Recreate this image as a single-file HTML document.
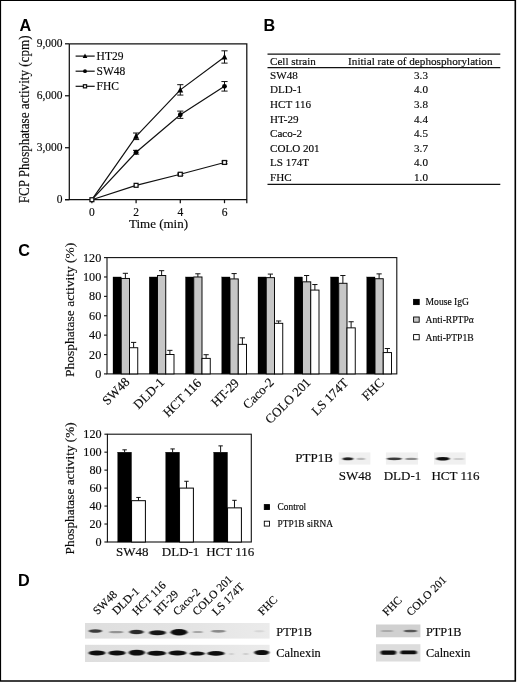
<!DOCTYPE html>
<html><head><meta charset="utf-8"><title>Figure</title>
<style>html,body{margin:0;padding:0;background:#fff;}svg{display:block;}text{font-family:"Liberation Serif","Times New Roman",serif;fill:#0a0a0a;stroke:#0a0a0a;stroke-width:0.16px;}.b{font-family:"Liberation Sans",Arial,sans-serif;font-weight:bold;fill:#000;stroke:none;}</style></head><body>
<svg width="520" height="682" viewBox="0 0 520 682">
<defs><filter id="bl" x="-20%" y="-80%" width="140%" height="260%"><feGaussianBlur stdDeviation="0.8 0.65"/></filter><filter id="bl2" x="-20%" y="-80%" width="140%" height="260%"><feGaussianBlur stdDeviation="0.9 0.7"/></filter><linearGradient id="bg1" x1="0" y1="0" x2="1" y2="0"><stop offset="0" stop-color="#dedede"/><stop offset="0.6" stop-color="#e4e4e4"/><stop offset="1" stop-color="#ebebeb"/></linearGradient></defs>
<rect x="0" y="0" width="520" height="682" fill="#fff"/>
<path d="M0,0 H516.1 V681.7 H0 Z M1.1,1.1 V680.2 H514.5 V1.1 Z" fill="#000" fill-rule="evenodd"/>
<text class="b" transform="translate(19.4,30.5) scale(1,1)" font-size="16.2">A</text>
<text class="b" transform="translate(263.6,30.8) scale(1,1)" font-size="16.2">B</text>
<text class="b" transform="translate(18.3,256.3) scale(1,1)" font-size="16.2">C</text>
<text class="b" transform="translate(17.9,586.2) scale(1,1)" font-size="16.2">D</text>
<g stroke="#111" stroke-width="1.25" fill="none">
<path d="M69.3,43.8 H246.8 V203.2 M69.3,43.8 V199.7 M65.0,199.7 H246.8"/>
<path d="M65.0,199.70 H69.3"/>
<path d="M65.0,147.73 H69.3"/>
<path d="M65.0,95.77 H69.3"/>
<path d="M65.0,43.80 H69.3"/>
<path d="M91.90,199.7 V203.2"/>
<path d="M136.10,199.7 V203.2"/>
<path d="M180.30,199.7 V203.2"/>
<path d="M224.50,199.7 V203.2"/>
</g>
<text x="62.5" y="203.20" font-size="11.5" text-anchor="end">0</text>
<text x="62.5" y="151.23" font-size="11.5" text-anchor="end">3,000</text>
<text x="62.5" y="99.27" font-size="11.5" text-anchor="end">6,000</text>
<text x="62.5" y="47.30" font-size="11.5" text-anchor="end">9,000</text>
<text x="91.90" y="216.3" font-size="11.5" text-anchor="middle">0</text>
<text x="136.10" y="216.3" font-size="11.5" text-anchor="middle">2</text>
<text x="180.30" y="216.3" font-size="11.5" text-anchor="middle">4</text>
<text x="224.50" y="216.3" font-size="11.5" text-anchor="middle">6</text>
<text x="158.5" y="228.3" font-size="13" text-anchor="middle">Time (min)</text>
<text transform="translate(29.3,119.4) rotate(-90) scale(0.935,1)" font-size="14" text-anchor="middle">FCP Phosphatase activity (cpm)</text>
<path d="M91.90,199.70 L136.10,136.30 L180.30,89.88 L224.50,56.96" fill="none" stroke="#111" stroke-width="1.2"/>
<path d="M136.10,133.01 V139.59 M133.00,133.01 H139.20 M133.00,139.59 H139.20" fill="none" stroke="#111" stroke-width="1"/>
<path d="M180.30,84.68 V95.07 M177.20,84.68 H183.40 M177.20,95.07 H183.40" fill="none" stroke="#111" stroke-width="1"/>
<path d="M224.50,50.82 V63.11 M221.40,50.82 H227.60 M221.40,63.11 H227.60" fill="none" stroke="#111" stroke-width="1"/>
<path d="M91.90,199.70 L136.10,152.24 L180.30,114.73 L224.50,86.33" fill="none" stroke="#111" stroke-width="1.2"/>
<path d="M136.10,150.33 V154.14 M133.00,150.33 H139.20 M133.00,154.14 H139.20" fill="none" stroke="#111" stroke-width="1"/>
<path d="M180.30,111.10 V118.37 M177.20,111.10 H183.40 M177.20,118.37 H183.40" fill="none" stroke="#111" stroke-width="1"/>
<path d="M224.50,81.56 V91.09 M221.40,81.56 H227.60 M221.40,91.09 H227.60" fill="none" stroke="#111" stroke-width="1"/>
<path d="M91.90,199.70 L136.10,185.32 L180.30,174.24 L224.50,162.46" fill="none" stroke="#111" stroke-width="1.2"/>
<path d="M180.30,173.20 V175.28 M177.20,173.20 H183.40 M177.20,175.28 H183.40" fill="none" stroke="#111" stroke-width="1"/>
<path d="M224.50,161.07 V163.84 M221.40,161.07 H227.60 M221.40,163.84 H227.60" fill="none" stroke="#111" stroke-width="1"/>
<path d="M133.20,138.80 L139.00,138.80 L136.10,133.10 Z" fill="#000" stroke="none"/>
<path d="M177.40,92.38 L183.20,92.38 L180.30,86.68 Z" fill="#000" stroke="none"/>
<path d="M221.60,59.46 L227.40,59.46 L224.50,53.76 Z" fill="#000" stroke="none"/>
<circle cx="136.10" cy="152.24" r="2.40" fill="#000" stroke="none"/>
<circle cx="180.30" cy="114.73" r="2.40" fill="#000" stroke="none"/>
<circle cx="224.50" cy="86.33" r="2.40" fill="#000" stroke="none"/>
<rect x="89.95" y="197.75" width="3.90" height="3.90" fill="#fff" stroke="#111" stroke-width="1.25"/>
<rect x="134.15" y="183.37" width="3.90" height="3.90" fill="#fff" stroke="#111" stroke-width="1.25"/>
<rect x="178.35" y="172.29" width="3.90" height="3.90" fill="#fff" stroke="#111" stroke-width="1.25"/>
<rect x="222.55" y="160.51" width="3.90" height="3.90" fill="#fff" stroke="#111" stroke-width="1.25"/>
<path d="M75.6,56.1 H94.7" stroke="#111" stroke-width="1.2"/>
<path d="M82.68,58.10 L87.32,58.10 L85.00,53.54 Z" fill="#000" stroke="none"/>
<text x="96.6" y="60.2" font-size="11.5">HT29</text>
<path d="M75.6,71.2 H94.7" stroke="#111" stroke-width="1.2"/>
<circle cx="85.00" cy="71.20" r="1.92" fill="#000" stroke="none"/>
<text x="96.6" y="75.3" font-size="11.5">SW48</text>
<path d="M75.6,86.3 H94.7" stroke="#111" stroke-width="1.2"/>
<rect x="83.44" y="84.74" width="3.12" height="3.12" fill="#fff" stroke="#111" stroke-width="1.25"/>
<text x="96.6" y="90.39999999999999" font-size="11.5">FHC</text>
<g stroke="#111" stroke-width="1.25">
<path d="M267.5,54.0 H500.3 M267.5,67.7 H500.3 M267.5,184.4 H500.3"/>
</g>
<text x="270" y="64.5" font-size="11.1">Cell strain</text>
<text x="420.3" y="64.5" font-size="11.2" text-anchor="middle">Initial rate of dephosphorylation</text>
<text x="270" y="78.80" font-size="11.1">SW48</text>
<text x="421" y="78.80" font-size="11.1" text-anchor="middle">3.3</text>
<text x="270" y="93.37" font-size="11.1">DLD-1</text>
<text x="421" y="93.37" font-size="11.1" text-anchor="middle">4.0</text>
<text x="270" y="107.94" font-size="11.1">HCT 116</text>
<text x="421" y="107.94" font-size="11.1" text-anchor="middle">3.8</text>
<text x="270" y="122.51" font-size="11.1">HT-29</text>
<text x="421" y="122.51" font-size="11.1" text-anchor="middle">4.4</text>
<text x="270" y="137.08" font-size="11.1">Caco-2</text>
<text x="421" y="137.08" font-size="11.1" text-anchor="middle">4.5</text>
<text x="270" y="151.65" font-size="11.1">COLO 201</text>
<text x="421" y="151.65" font-size="11.1" text-anchor="middle">3.7</text>
<text x="270" y="166.22" font-size="11.1">LS 174T</text>
<text x="421" y="166.22" font-size="11.1" text-anchor="middle">4.0</text>
<text x="270" y="180.79" font-size="11.1">FHC</text>
<text x="421" y="180.79" font-size="11.1" text-anchor="middle">1.0</text>
<g stroke="#111" stroke-width="1.1" fill="none">
<rect x="107.0" y="257.6" width="289.8" height="116.29999999999995"/>
<path d="M104.0,373.90 H107.0"/>
<path d="M104.0,354.52 H107.0"/>
<path d="M104.0,335.13 H107.0"/>
<path d="M104.0,315.75 H107.0"/>
<path d="M104.0,296.37 H107.0"/>
<path d="M104.0,276.98 H107.0"/>
<path d="M104.0,257.60 H107.0"/>
</g>
<text x="101.3" y="377.90" font-size="12.2" text-anchor="end">0</text>
<text x="101.3" y="358.52" font-size="12.2" text-anchor="end">20</text>
<text x="101.3" y="339.13" font-size="12.2" text-anchor="end">40</text>
<text x="101.3" y="319.75" font-size="12.2" text-anchor="end">60</text>
<text x="101.3" y="300.37" font-size="12.2" text-anchor="end">80</text>
<text x="101.3" y="280.98" font-size="12.2" text-anchor="end">100</text>
<text x="101.3" y="261.60" font-size="12.2" text-anchor="end">120</text>
<text transform="translate(73.6,309.8) rotate(-90)" font-size="13.5" text-anchor="middle">Phosphatase activity (%)</text>
<rect x="113.00" y="276.98" width="8.25" height="96.92" fill="#000" stroke="#000" stroke-width="0.3"/>
<rect x="121.25" y="278.44" width="8.25" height="95.46" fill="#c6c6c6" stroke="#000" stroke-width="0.95"/>
<path d="M125.38,278.44 V273.30 M122.78,273.30 H127.97" stroke="#111" stroke-width="1" fill="none"/>
<rect x="129.50" y="347.73" width="8.25" height="26.17" fill="#fff" stroke="#000" stroke-width="0.95"/>
<path d="M133.62,347.73 V342.40 M131.03,342.40 H136.22" stroke="#111" stroke-width="1" fill="none"/>
<text transform="translate(130.43,382.70) rotate(-45)" font-size="13" text-anchor="end">SW48</text>
<rect x="149.25" y="276.98" width="8.25" height="96.92" fill="#000" stroke="#000" stroke-width="0.3"/>
<rect x="157.50" y="275.53" width="8.25" height="98.37" fill="#c6c6c6" stroke="#000" stroke-width="0.95"/>
<path d="M161.62,275.53 V270.68 M159.03,270.68 H164.22" stroke="#111" stroke-width="1" fill="none"/>
<rect x="165.75" y="354.52" width="8.25" height="19.38" fill="#fff" stroke="#000" stroke-width="0.95"/>
<path d="M169.88,354.52 V350.35 M167.28,350.35 H172.47" stroke="#111" stroke-width="1" fill="none"/>
<text transform="translate(165.07,383.10) rotate(-45)" font-size="13" text-anchor="end">DLD-1</text>
<rect x="185.50" y="276.98" width="8.25" height="96.92" fill="#000" stroke="#000" stroke-width="0.3"/>
<rect x="193.75" y="276.98" width="8.25" height="96.92" fill="#c6c6c6" stroke="#000" stroke-width="0.95"/>
<path d="M197.88,276.98 V273.79 M195.28,273.79 H200.47" stroke="#111" stroke-width="1" fill="none"/>
<rect x="202.00" y="358.39" width="8.25" height="15.51" fill="#fff" stroke="#000" stroke-width="0.95"/>
<path d="M206.12,358.39 V354.71 M203.53,354.71 H208.72" stroke="#111" stroke-width="1" fill="none"/>
<text transform="translate(202.12,383.90) rotate(-45)" font-size="13" text-anchor="end">HCT 116</text>
<rect x="221.75" y="276.98" width="8.25" height="96.92" fill="#000" stroke="#000" stroke-width="0.3"/>
<rect x="230.00" y="278.92" width="8.25" height="94.98" fill="#c6c6c6" stroke="#000" stroke-width="0.95"/>
<path d="M234.12,278.92 V273.59 M231.53,273.59 H236.72" stroke="#111" stroke-width="1" fill="none"/>
<rect x="238.25" y="344.34" width="8.25" height="29.56" fill="#fff" stroke="#000" stroke-width="0.95"/>
<path d="M242.38,344.34 V337.85 M239.78,337.85 H244.97" stroke="#111" stroke-width="1" fill="none"/>
<text transform="translate(239.88,383.90) rotate(-45)" font-size="13" text-anchor="end">HT-29</text>
<rect x="258.00" y="276.98" width="8.25" height="96.92" fill="#000" stroke="#000" stroke-width="0.3"/>
<rect x="266.25" y="277.66" width="8.25" height="96.24" fill="#c6c6c6" stroke="#000" stroke-width="0.95"/>
<path d="M270.38,277.66 V274.08 M267.77,274.08 H272.98" stroke="#111" stroke-width="1" fill="none"/>
<rect x="274.50" y="323.31" width="8.25" height="50.59" fill="#fff" stroke="#000" stroke-width="0.95"/>
<path d="M278.62,323.31 V320.98 M276.02,320.98 H281.23" stroke="#111" stroke-width="1" fill="none"/>
<text transform="translate(274.62,383.20) rotate(-45)" font-size="13" text-anchor="end">Caco-2</text>
<rect x="294.25" y="276.98" width="8.25" height="96.92" fill="#000" stroke="#000" stroke-width="0.3"/>
<rect x="302.50" y="281.83" width="8.25" height="92.07" fill="#c6c6c6" stroke="#000" stroke-width="0.95"/>
<path d="M306.62,281.83 V275.53 M304.02,275.53 H309.23" stroke="#111" stroke-width="1" fill="none"/>
<rect x="310.75" y="290.07" width="8.25" height="83.83" fill="#fff" stroke="#000" stroke-width="0.95"/>
<path d="M314.88,290.07 V284.54 M312.27,284.54 H317.48" stroke="#111" stroke-width="1" fill="none"/>
<text transform="translate(311.38,383.40) rotate(-45)" font-size="13" text-anchor="end">COLO 201</text>
<rect x="330.50" y="276.98" width="8.25" height="96.92" fill="#000" stroke="#000" stroke-width="0.3"/>
<rect x="338.75" y="283.28" width="8.25" height="90.62" fill="#c6c6c6" stroke="#000" stroke-width="0.95"/>
<path d="M342.88,283.28 V275.53 M340.27,275.53 H345.48" stroke="#111" stroke-width="1" fill="none"/>
<rect x="347.00" y="327.86" width="8.25" height="46.04" fill="#fff" stroke="#000" stroke-width="0.95"/>
<path d="M351.12,327.86 V321.76 M348.52,321.76 H353.73" stroke="#111" stroke-width="1" fill="none"/>
<text transform="translate(349.12,383.70) rotate(-45)" font-size="13" text-anchor="end">LS 174T</text>
<rect x="366.75" y="276.98" width="8.25" height="96.92" fill="#000" stroke="#000" stroke-width="0.3"/>
<rect x="375.00" y="278.73" width="8.25" height="95.17" fill="#c6c6c6" stroke="#000" stroke-width="0.95"/>
<path d="M379.12,278.73 V273.88 M376.52,273.88 H381.73" stroke="#111" stroke-width="1" fill="none"/>
<rect x="383.25" y="352.58" width="8.25" height="21.32" fill="#fff" stroke="#000" stroke-width="0.95"/>
<path d="M387.38,352.58 V348.51 M384.77,348.51 H389.98" stroke="#111" stroke-width="1" fill="none"/>
<text transform="translate(384.88,383.40) rotate(-45)" font-size="13" text-anchor="end">FHC</text>
<rect x="413.6" y="299.40" width="5.6" height="5.2" fill="#000" stroke="#000" stroke-width="0.9"/>
<text x="425.6" y="305.00" font-size="9.6">Mouse IgG</text>
<rect x="413.6" y="317.00" width="5.6" height="5.2" fill="#c6c6c6" stroke="#000" stroke-width="0.9"/>
<text x="425.6" y="323.00" font-size="9.6">Anti-RPTPα</text>
<rect x="413.6" y="334.60" width="5.6" height="5.2" fill="#fff" stroke="#000" stroke-width="0.9"/>
<text x="425.6" y="341.00" font-size="9.6">Anti-PTP1B</text>
<g stroke="#111" stroke-width="1.1" fill="none">
<rect x="107.4" y="434.2" width="143.9" height="107.80000000000001"/>
<path d="M104.4,542.00 H107.4"/>
<path d="M104.4,524.03 H107.4"/>
<path d="M104.4,506.07 H107.4"/>
<path d="M104.4,488.10 H107.4"/>
<path d="M104.4,470.13 H107.4"/>
<path d="M104.4,452.17 H107.4"/>
<path d="M104.4,434.20 H107.4"/>
</g>
<text x="101.6" y="546.00" font-size="12.2" text-anchor="end">0</text>
<text x="101.6" y="528.03" font-size="12.2" text-anchor="end">20</text>
<text x="101.6" y="510.07" font-size="12.2" text-anchor="end">40</text>
<text x="101.6" y="492.10" font-size="12.2" text-anchor="end">60</text>
<text x="101.6" y="474.13" font-size="12.2" text-anchor="end">80</text>
<text x="101.6" y="456.17" font-size="12.2" text-anchor="end">100</text>
<text x="101.6" y="438.20" font-size="12.2" text-anchor="end">120</text>
<text transform="translate(73.6,488.3) rotate(-90)" font-size="13.3" text-anchor="middle">Phosphatase activity (%)</text>
<rect x="117.70" y="452.17" width="13.85" height="89.83" fill="#000" stroke="#000" stroke-width="0.3"/>
<path d="M124.62,452.17 V449.83 M122.42,449.83 H126.83" stroke="#111" stroke-width="1" fill="none"/>
<rect x="131.55" y="500.68" width="13.85" height="41.32" fill="#fff" stroke="#000" stroke-width="1"/>
<path d="M138.48,500.68 V497.44 M136.28,497.44 H140.68" stroke="#111" stroke-width="1" fill="none"/>
<text x="132.2" y="556" font-size="13" text-anchor="middle">SW48</text>
<rect x="165.70" y="452.17" width="13.85" height="89.83" fill="#000" stroke="#000" stroke-width="0.3"/>
<path d="M172.62,452.17 V448.93 M170.43,448.93 H174.82" stroke="#111" stroke-width="1" fill="none"/>
<rect x="179.55" y="488.10" width="13.85" height="53.90" fill="#fff" stroke="#000" stroke-width="1"/>
<path d="M186.47,488.10 V481.27 M184.28,481.27 H188.67" stroke="#111" stroke-width="1" fill="none"/>
<text x="180.6" y="556" font-size="13" text-anchor="middle">DLD-1</text>
<rect x="213.70" y="452.17" width="13.85" height="89.83" fill="#000" stroke="#000" stroke-width="0.3"/>
<path d="M220.62,452.17 V445.88 M218.43,445.88 H222.82" stroke="#111" stroke-width="1" fill="none"/>
<rect x="227.55" y="507.86" width="13.85" height="34.14" fill="#fff" stroke="#000" stroke-width="1"/>
<path d="M234.47,507.86 V500.32 M232.28,500.32 H236.67" stroke="#111" stroke-width="1" fill="none"/>
<text x="230.2" y="556" font-size="13" text-anchor="middle">HCT 116</text>
<rect x="264.3" y="504.60" width="5.2" height="4.9" fill="#000" stroke="#000" stroke-width="0.9"/>
<text x="277.6" y="510.20" font-size="9.35">Control</text>
<rect x="264.3" y="521.20" width="5.2" height="4.9" fill="#fff" stroke="#000" stroke-width="0.9"/>
<text x="277.6" y="527.30" font-size="9.35">PTP1B siRNA</text>
<text x="295.3" y="462.2" font-size="13">PTP1B</text>
<rect x="338.7" y="452.4" width="31.7" height="12.2" fill="#f0f0f0"/>
<rect x="385.9" y="452.4" width="32.1" height="12.2" fill="#f0f0f0"/>
<rect x="434" y="452.4" width="31.7" height="12.2" fill="#f0f0f0"/>
<g filter="url(#bl)" opacity="1.0"><ellipse cx="347.90" cy="458.80" rx="5.30" ry="1.53" fill="#222"/><rect x="343.60" y="457.95" width="8.60" height="1.70" rx="0.85" fill="#222"/></g>
<g filter="url(#bl)" opacity="0.8"><ellipse cx="360.90" cy="458.90" rx="4.26" ry="1.08" fill="#aaa"/><rect x="357.60" y="458.30" width="6.60" height="1.20" rx="0.60" fill="#aaa"/></g>
<g filter="url(#bl)" opacity="1.0"><ellipse cx="394.30" cy="458.80" rx="7.59" ry="1.35" fill="#3a3a3a"/><rect x="387.80" y="458.05" width="13.00" height="1.50" rx="0.75" fill="#3a3a3a"/></g>
<g filter="url(#bl)" opacity="0.9"><ellipse cx="411.40" cy="458.90" rx="6.24" ry="1.17" fill="#808080"/><rect x="406.20" y="458.25" width="10.40" height="1.30" rx="0.65" fill="#808080"/></g>
<g filter="url(#bl)" opacity="1.0"><ellipse cx="442.80" cy="458.70" rx="6.86" ry="1.80" fill="#0a0a0a"/><rect x="437.00" y="457.70" width="11.60" height="2.00" rx="1.00" fill="#0a0a0a"/></g>
<g filter="url(#bl)" opacity="0.8"><ellipse cx="458.80" cy="458.90" rx="5.41" ry="0.99" fill="#c4c4c4"/><rect x="454.40" y="458.35" width="8.80" height="1.10" rx="0.55" fill="#c4c4c4"/></g>
<text x="355" y="480" font-size="13" text-anchor="middle">SW48</text>
<text x="402.5" y="480" font-size="13" text-anchor="middle">DLD-1</text>
<text x="455.4" y="480" font-size="13" text-anchor="middle">HCT 116</text>
<rect x="85" y="623" width="184.6" height="15.6" fill="url(#bg1)"/>
<rect x="85" y="644.8" width="184.6" height="17.2" fill="url(#bg1)"/>
<g filter="url(#bl)" opacity="1"><ellipse cx="95.40" cy="631.00" rx="6.66" ry="1.71" fill="#3a3a3a"/><rect x="89.80" y="630.05" width="11.20" height="1.90" rx="0.95" fill="#3a3a3a"/></g>
<g filter="url(#bl)" opacity="0.9"><ellipse cx="116.25" cy="632.10" rx="7.33" ry="1.17" fill="#8a8a8a"/><rect x="110.00" y="631.45" width="12.50" height="1.30" rx="0.65" fill="#8a8a8a"/></g>
<g filter="url(#bl)" opacity="1"><ellipse cx="136.50" cy="632.00" rx="7.38" ry="2.16" fill="#2a2a2a"/><rect x="130.20" y="630.80" width="12.60" height="2.40" rx="1.20" fill="#2a2a2a"/></g>
<g filter="url(#bl)" opacity="1"><ellipse cx="157.50" cy="632.80" rx="8.42" ry="2.43" fill="#181818"/><rect x="150.20" y="631.45" width="14.60" height="2.70" rx="1.35" fill="#181818"/></g>
<g filter="url(#bl)" opacity="1"><ellipse cx="179.00" cy="632.30" rx="8.32" ry="3.24" fill="#080808"/><rect x="171.80" y="630.50" width="14.40" height="3.60" rx="1.80" fill="#080808"/></g>
<g filter="url(#bl)" opacity="0.9"><ellipse cx="197.80" cy="632.00" rx="5.20" ry="1.12" fill="#a0a0a0"/><rect x="193.60" y="631.38" width="8.40" height="1.25" rx="0.62" fill="#a0a0a0"/></g>
<g filter="url(#bl)" opacity="0.9"><ellipse cx="218.35" cy="631.30" rx="7.33" ry="1.35" fill="#808080"/><rect x="212.10" y="630.55" width="12.50" height="1.50" rx="0.75" fill="#808080"/></g>
<g filter="url(#bl)" opacity="0.9"><ellipse cx="259.30" cy="631.20" rx="4.89" ry="0.99" fill="#d4d4d4"/><rect x="255.40" y="630.65" width="7.80" height="1.10" rx="0.55" fill="#d4d4d4"/></g>
<g filter="url(#bl2)" opacity="1"><ellipse cx="97.00" cy="653.00" rx="8.32" ry="2.61" fill="#080808"/><rect x="89.80" y="651.55" width="14.40" height="2.90" rx="1.45" fill="#080808"/></g>
<g filter="url(#bl2)" opacity="1"><ellipse cx="117.00" cy="653.00" rx="8.53" ry="2.61" fill="#080808"/><rect x="109.60" y="651.55" width="14.80" height="2.90" rx="1.45" fill="#080808"/></g>
<g filter="url(#bl2)" opacity="1"><ellipse cx="136.80" cy="652.60" rx="8.11" ry="2.97" fill="#080808"/><rect x="129.80" y="650.95" width="14.00" height="3.30" rx="1.65" fill="#080808"/></g>
<g filter="url(#bl2)" opacity="1"><ellipse cx="156.65" cy="653.20" rx="9.31" ry="2.52" fill="#080808"/><rect x="148.50" y="651.80" width="16.30" height="2.80" rx="1.40" fill="#080808"/></g>
<g filter="url(#bl2)" opacity="1"><ellipse cx="177.50" cy="653.00" rx="8.84" ry="2.43" fill="#080808"/><rect x="169.80" y="651.65" width="15.40" height="2.70" rx="1.35" fill="#080808"/></g>
<g filter="url(#bl2)" opacity="1"><ellipse cx="197.25" cy="653.60" rx="7.54" ry="1.98" fill="#080808"/><rect x="190.80" y="652.50" width="12.90" height="2.20" rx="1.10" fill="#080808"/></g>
<g filter="url(#bl2)" opacity="1"><ellipse cx="215.95" cy="653.40" rx="8.58" ry="2.34" fill="#080808"/><rect x="208.50" y="652.10" width="14.90" height="2.60" rx="1.30" fill="#080808"/></g>
<g filter="url(#bl2)" opacity="1"><ellipse cx="261.80" cy="652.60" rx="7.49" ry="2.52" fill="#080808"/><rect x="255.40" y="651.20" width="12.80" height="2.80" rx="1.40" fill="#080808"/></g>
<g filter="url(#bl)" opacity="0.8"><ellipse cx="231.50" cy="654.00" rx="2.60" ry="0.90" fill="#c8c8c8"/><rect x="229.80" y="653.50" width="3.40" height="1.00" rx="0.50" fill="#c8c8c8"/></g>
<g filter="url(#bl)" opacity="0.8"><ellipse cx="245.75" cy="654.00" rx="2.86" ry="0.99" fill="#c6c6c6"/><rect x="243.80" y="653.45" width="3.90" height="1.10" rx="0.55" fill="#c6c6c6"/></g>
<text x="276.3" y="635.6" font-size="12.3">PTP1B</text>
<text x="276.3" y="657.2" font-size="12.3">Calnexin</text>
<text transform="translate(97.6,615.3) rotate(-45)" font-size="11.4">SW48</text>
<text transform="translate(116.8,615.3) rotate(-45)" font-size="11.4">DLD-1</text>
<text transform="translate(136.7,615.7) rotate(-45)" font-size="11.4">HCT 116</text>
<text transform="translate(158.3,615.5) rotate(-45)" font-size="11.4">HT-29</text>
<text transform="translate(177.5,616.0) rotate(-45)" font-size="11.4">Caco-2</text>
<text transform="translate(197.0,616.0) rotate(-45)" font-size="11.4">COLO 201</text>
<text transform="translate(216.5,616.0) rotate(-45)" font-size="11.4">LS 174T</text>
<text transform="translate(262.5,616.0) rotate(-45)" font-size="11.4">FHC</text>
<rect x="376" y="624.5" width="44.4" height="12.8" fill="#d0d0d0"/>
<rect x="376" y="644.2" width="44.4" height="17.3" fill="#dcdcdc"/>
<g filter="url(#bl)" opacity="0.9"><ellipse cx="387.00" cy="631.00" rx="6.24" ry="0.99" fill="#a4a4a4"/><rect x="381.80" y="630.45" width="10.40" height="1.10" rx="0.55" fill="#a4a4a4"/></g>
<g filter="url(#bl)" opacity="1"><ellipse cx="410.50" cy="631.00" rx="6.76" ry="1.26" fill="#555"/><rect x="404.80" y="630.30" width="11.40" height="1.40" rx="0.70" fill="#555"/></g>
<g filter="url(#bl2)" opacity="1"><rect x="380.60" y="650.42" width="15.60" height="4.37" rx="2.18" fill="#080808"/></g>
<g filter="url(#bl2)" opacity="1"><rect x="400.40" y="650.47" width="16.40" height="3.86" rx="1.93" fill="#080808"/></g>
<text x="426" y="635.6" font-size="12.3">PTP1B</text>
<text x="426" y="657.2" font-size="12.3">Calnexin</text>
<text transform="translate(387.0,616.6) rotate(-45)" font-size="11.4">FHC</text>
<text transform="translate(411.0,616.6) rotate(-45)" font-size="11.4">COLO 201</text>
</svg></body></html>
